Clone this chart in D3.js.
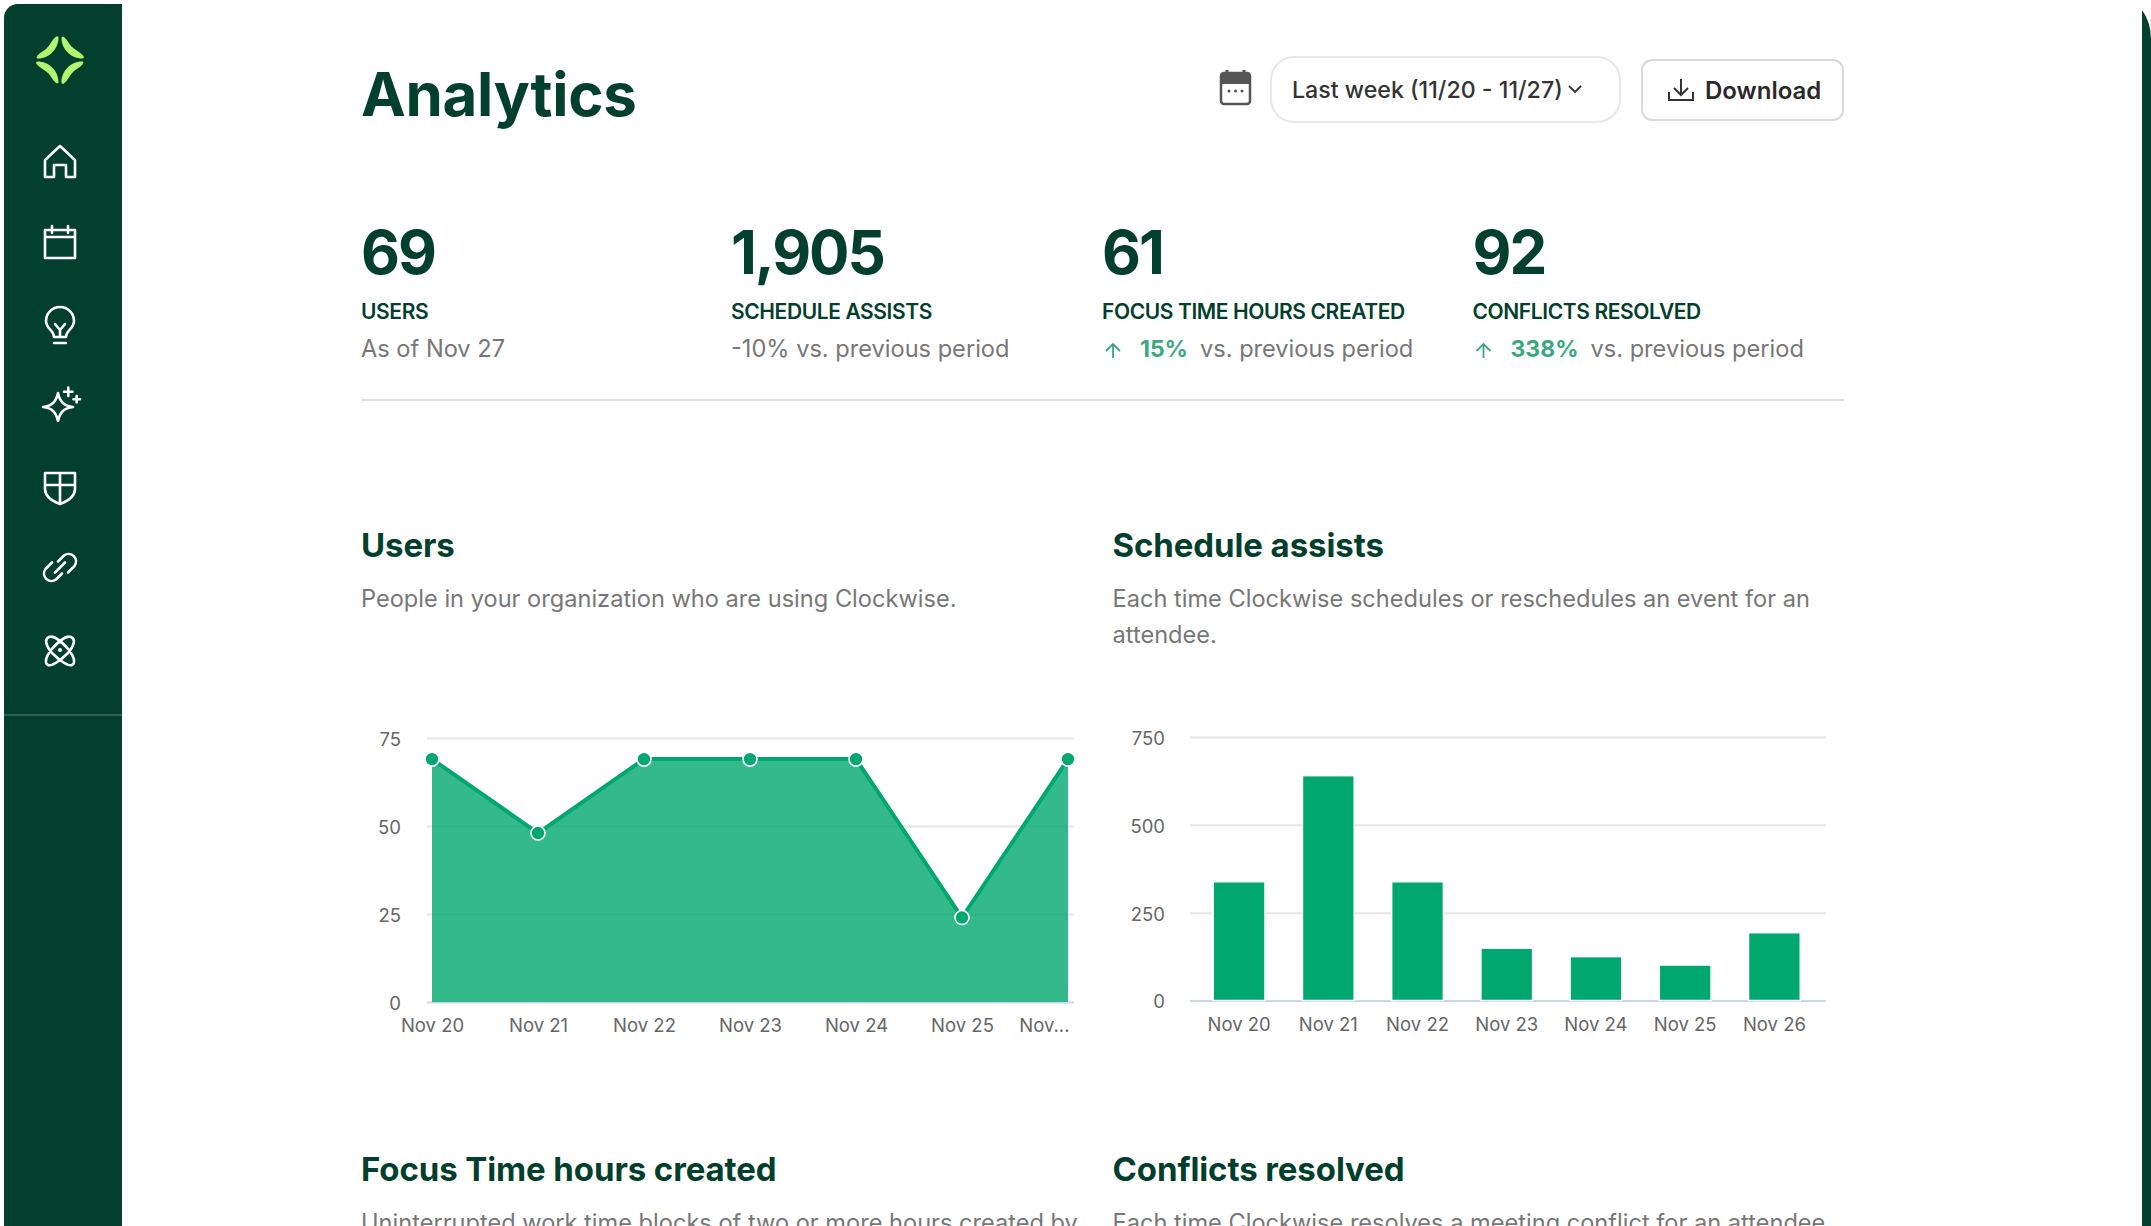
<!DOCTYPE html>
<html>
<head>
<meta charset="utf-8">
<script src="https://cdn.jsdelivr.net/npm/d3@7"></script>
<style>
  html, body { margin: 0; padding: 0; background: #fff; overflow: hidden; }
  svg { display: block; }
  text { font-family: Inter, sans-serif; }
  .head { font-family: Inter, sans-serif; font-weight: 700; fill: #033f2d; }
  .desc { font-size: 23.6px; fill: #777; }
  .axis text { font-size: 18.5px; fill: #666; font-family: Inter, sans-serif; }
  .axis path { display: none; }
  .grid line { stroke: #e6e6e6; stroke-width: 2; }
  .icon { fill: none; stroke: #fff; stroke-width: 2.6; stroke-linejoin: round; stroke-linecap: round; }
</style>
</head>
<body>
<div id="canvas"></div>
<script>
// chart values
var days = ['Nov 20', 'Nov 21', 'Nov 22', 'Nov 23', 'Nov 24', 'Nov 25', 'Nov 26'];
var usersLabels = ['Nov 20', 'Nov 21', 'Nov 22', 'Nov 23', 'Nov 24', 'Nov 25', 'Nov...'];
var usersValues = [69, 48, 69, 69, 69, 24, 69];
var usersTicks = [0, 25, 50, 75];
var assistsValues = [338, 640, 338, 149, 125, 101, 193];
var assistsTicks = [0, 250, 500, 750];

// headline stats
var statValues = ['69', '1,905', '61', '92'];
var statLabels = ['USERS', 'SCHEDULE ASSISTS', 'FOCUS TIME HOURS CREATED', 'CONFLICTS RESOLVED'];
var statPercents = [null, null, '15%', '338%'];
var statNotes = ['As of Nov 27', '-10% vs. previous period', 'vs. previous period', 'vs. previous period'];
var statX = [361, 731, 1102, 1472.5];

var green = '#00a86f';
var dark = '#033f2d';

var svg = d3.select('#canvas').append('svg')
  .attr('width', 2151)
  .attr('height', 1226);

// side bar and right edge
svg.append('path')
  .attr('d', 'M4,1226V18a14,14 0 0 1 14,-14H122V1226Z')
  .attr('fill', dark);
svg.append('line')
  .attr('x1', 4).attr('x2', 122).attr('y1', 715).attr('y2', 715)
  .attr('stroke', '#3f6b5c').attr('stroke-width', 1.5);
svg.append('path')
  .attr('d', 'M2142,10Q2151,22 2151,40V1226H2142Z')
  .attr('fill', dark);

// logo, one petal turned four times
var logo = svg.append('g').attr('transform', 'translate(60,60)').attr('fill', '#b4f56f');
[0, 90, 180, 270].forEach(function (r) {
  logo.append('path')
    .attr('transform', 'rotate(' + r + ')')
    .attr('d', 'M-1.5,-22C-1.5,-12 -10,-1.500 -22,-1.500C-24,-1.500 -23.500,-3.500 -22,-5C-19,-8 -16,-9 -13,-12C-10,-15 -8,-20 -4.500,-23C-2.500,-24.500 -1.500,-24 -1.500,-22Z');
});

// nav icons, drawn in a 40 box around the centre
var icons = [
  { y: 162, d: 'M-15,-2L0,-16L15,-2V15H6V3H-6V15H-15Z' },
  { y: 243, d: 'M-15,-13H15V15H-15ZM-15,-6H15M-8,-17V-10M8,-17V-10' },
  { y: 326, d: 'M-6,11C-6,4 -14,3 -14,-5A14,14 0 0 1 14,-5C14,3 6,4 6,11ZM-6,17H6M-5,-2L0,4L5,-2M0,4V11' },
  { y: 407, d: 'M-2,-14C0,-5 4,-1 13,0C4,1 0,5 -2,14C-4,5 -8,1 -17,0C-8,-1 -4,-5 -2,-14ZM8.300,-19.500V-11M4,-15.300H12.500M16.700,-11V-4.500M13.500,-7.700H20' },
  { y: 488, d: 'M-15,-15H15V1C15,8 8,13 0,16C-8,13 -15,8 -15,1ZM0,-15V16M-15,-3H15' },
  { y: 567.500, d: 'M-2,-6L4,-12A7.500,7.500 0 0 1 14.500,-1.500L8,5M2,6L-4,12A7.500,7.500 0 0 1 -14.500,1.500L-8,-5M-5,5L5,-5' },
  { y: 651, d: 'M-11,-14C-6,-16 3,-8 9,-1C14,6 16,12 12,14C8,16 -2,8 -8,2C-14,-5 -16,-12 -11,-14ZM11,-14C6,-16 -3,-8 -9,-1C-14,6 -16,12 -12,14C-8,16 2,8 8,2C14,-5 16,-12 11,-14Z' }
];
svg.selectAll('.icon').data(icons).enter().append('path')
  .attr('class', 'icon')
  .attr('transform', function (d) { return 'translate(60,' + d.y + ')'; })
  .attr('d', function (d) { return d.d; });
svg.append('circle').attr('cx', 60).attr('cy', 650).attr('r', 2).attr('fill', '#fff');

// page header
svg.append('text').attr('class', 'head')
  .attr('x', 361).attr('y', 116)
  .style('font-size', '60px').style('letter-spacing', '-0.3px')
  .text('Analytics');

// calendar icon
svg.append('rect').attr('x', 1221).attr('y', 73).attr('width', 29).attr('height', 31).attr('rx', 3)
  .attr('fill', '#fff').attr('stroke', '#555').attr('stroke-width', 2.5);
svg.append('path').attr('d', 'M1220,84V76a3,3 0 0 1 3,-3H1248a3,3 0 0 1 3,3V84Z').attr('fill', '#555');
svg.append('path').attr('d', 'M1227,70V75M1244,70V75').attr('stroke', '#555').attr('stroke-width', 3);
[1229, 1235.5, 1242].forEach(function (x) {
  svg.append('circle').attr('cx', x).attr('cy', 91).attr('r', 1.5).attr('fill', '#555');
});

// date select
svg.append('rect').attr('x', 1271).attr('y', 57).attr('width', 349).attr('height', 65).attr('rx', 23)
  .attr('fill', '#fff').attr('stroke', '#e8e8e8').attr('stroke-width', 2);
svg.append('text').attr('x', 1292).attr('y', 98)
  .style('font-size', '23.2px').style('font-weight', 500).attr('fill', '#333')
  .text('Last week (11/20 - 11/27)');
svg.append('path').attr('d', 'M1569,86L1575,92L1581,86').attr('fill', 'none').attr('stroke', '#333').attr('stroke-width', 1.8);

// download button
svg.append('rect').attr('x', 1642).attr('y', 60).attr('width', 201).attr('height', 60).attr('rx', 10)
  .attr('fill', '#fff').attr('stroke', '#d9d9d9').attr('stroke-width', 2);
svg.append('path').attr('d', 'M1681,79V94M1674,88L1681,95L1688,88M1669,92V100H1693V92')
  .attr('fill', 'none').attr('stroke', '#333').attr('stroke-width', 2);
svg.append('text').attr('x', 1705).attr('y', 99)
  .style('font-size', '24px').style('font-weight', 600).attr('fill', '#2a2a2a')
  .text('Download');

// stats row
statValues.forEach(function (v, i) {
  var x = statX[i];
  svg.append('text').attr('class', 'head').attr('x', x).attr('y', 274)
    .style('font-size', '60px').style('letter-spacing', '-2px').text(v);
  svg.append('text').attr('class', 'head').attr('x', x).attr('y', 319)
    .style('font-size', '21px').style('font-weight', 600).style('letter-spacing', '-0.4px').text(statLabels[i]);
  if (statPercents[i]) {
    svg.append('path')
      .attr('d', 'M' + (x + 11) + ',358V344M' + (x + 4) + ',351L' + (x + 11) + ',344L' + (x + 18) + ',351')
      .attr('fill', 'none').attr('stroke', '#3aa981').attr('stroke-width', 1.8);
    var pct = svg.append('text').attr('x', x + 38).attr('y', 357)
      .attr('fill', '#3aa981')
      .style('font-size', '23px').style('font-weight', 700)
      .text(statPercents[i]);
    var px = x + 38 + pct.node().getComputedTextLength() + 12;
    svg.append('text').attr('class', 'desc').attr('x', px).attr('y', 357).text(statNotes[i]);
  } else {
    svg.append('text').attr('class', 'desc').attr('x', x).attr('y', 357).text(statNotes[i]);
  }
});
svg.append('line').attr('x1', 361).attr('x2', 1844).attr('y1', 400).attr('y2', 400)
  .attr('stroke', '#e0e0e0').attr('stroke-width', 2);

// section titles
var sectionTitles = ['Users', 'Schedule assists', 'Focus Time hours created', 'Conflicts resolved'];
var sectionX = [361, 1112.5, 361, 1112.5];
var sectionY = [557, 557, 1181, 1181];
svg.selectAll('.section').data(sectionTitles).enter().append('text')
  .attr('class', 'head section')
  .attr('x', function (d, i) { return sectionX[i]; })
  .attr('y', function (d, i) { return sectionY[i]; })
  .style('font-size', '33px').style('font-weight', 700).style('letter-spacing', '-0.1px')
  .text(function (d) { return d; });

var descLines = [
  { x: 361, y: 607, t: 'People in your organization who are using Clockwise.' },
  { x: 1112.5, y: 607, t: 'Each time Clockwise schedules or reschedules an event for an' },
  { x: 1112.5, y: 643, t: 'attendee.' },
  { x: 361, y: 1231, t: 'Uninterrupted work time blocks of two or more hours created by' },
  { x: 1112.5, y: 1231, t: 'Each time Clockwise resolves a meeting conflict for an attendee' }
];
svg.selectAll('.descline').data(descLines).enter().append('text')
  .attr('class', 'desc descline')
  .attr('x', function (d) { return d.x; })
  .attr('y', function (d) { return d.y; })
  .text(function (d) { return d.t; });

// shared left axis with grid lines
var drawGrid = function (y, ticks, left, right, labelX) {
  var g = svg.append('g').attr('class', 'axis grid').attr('transform', 'translate(' + left + ',0)');
  g.call(d3.axisLeft(y).tickValues(ticks).tickSizeInner(left - right).tickSizeOuter(0));
  g.selectAll('text').attr('x', labelX - left).attr('dy', '0.4em');
  g.selectAll('line').filter(function (d) { return d === 0; }).style('stroke', '#ccd6eb');
};

// users area chart
var x1 = d3.scalePoint().domain(days).range([432, 1068]);
var y1 = d3.scaleLinear().domain([0, 75]).range([1002, 738]);
drawGrid(y1, usersTicks, 427, 1074, 401);

var area = d3.area()
  .x(function (d, i) { return x1(days[i]); })
  .y0(y1(0))
  .y1(function (d) { return y1(d); });
var line = d3.line()
  .x(function (d, i) { return x1(days[i]); })
  .y(function (d) { return y1(d); });
svg.append('path').datum(usersValues).attr('d', area).attr('fill', green).attr('fill-opacity', 0.8);
svg.append('path').datum(usersValues).attr('d', line)
  .attr('fill', 'none').attr('stroke', green).attr('stroke-width', 4);
svg.selectAll('.dot').data(usersValues).enter().append('circle')
  .attr('class', 'dot')
  .attr('cx', function (d, i) { return x1(days[i]); })
  .attr('cy', function (d) { return y1(d); })
  .attr('r', 7)
  .attr('fill', green)
  .attr('stroke', '#fff')
  .attr('stroke-width', 1.6);

var xAxis1 = svg.append('g').attr('class', 'axis').attr('transform', 'translate(0,1002)');
xAxis1.call(d3.axisBottom(x1).tickSize(0).tickPadding(17).tickFormat(function (d, i) { return usersLabels[i]; }));
xAxis1.selectAll('text').filter(function (d, i) { return i === 6; })
  .style('text-anchor', 'end').attr('x', 1);

// schedule assists bar chart
var x2 = d3.scaleBand().domain(days).range([1194.5, 1819]).paddingInner(0.42).paddingOuter(0.21);
var y2 = d3.scaleLinear().domain([0, 750]).range([1000.5, 737]);
drawGrid(y2, assistsTicks, 1190, 1826, 1165);

svg.selectAll('.bar').data(assistsValues).enter().append('rect')
  .attr('class', 'bar')
  .attr('x', function (d, i) { return x2(days[i]); })
  .attr('y', function (d) { return y2(d); })
  .attr('width', x2.bandwidth())
  .attr('height', function (d) { return y2(0) - y2(d); })
  .attr('fill', green)
  .attr('stroke', '#fff')
  .attr('stroke-width', 1.5);

var xAxis2 = svg.append('g').attr('class', 'axis').attr('transform', 'translate(0,1000.5)');
xAxis2.call(d3.axisBottom(x2).tickSize(0).tickPadding(17.5));
</script>
</body>
</html>
